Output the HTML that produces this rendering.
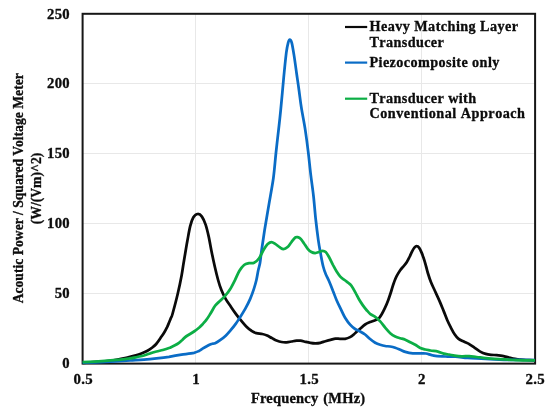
<!DOCTYPE html>
<html><head><meta charset="utf-8"><title>Acoustic Power vs Frequency</title>
<style>
html,body{margin:0;padding:0;background:#fff;}
body{width:550px;height:416px;overflow:hidden;position:relative;}
svg{position:absolute;left:0;top:0;display:block;}
svg text{font-family:"Liberation Serif","DejaVu Serif",serif;font-weight:bold;fill:#0c0c0c;stroke:#0c0c0c;stroke-width:0.3px;stroke-linejoin:round;}
</style></head><body>
<svg width="550" height="416" viewBox="0 0 550 416">
<rect x="0" y="0" width="550" height="416" fill="#fff"/>
<g stroke="#e8e8e8" stroke-width="1" fill="none"><line x1="195.5" y1="13.8" x2="195.5" y2="363.6"/><line x1="308.5" y1="13.8" x2="308.5" y2="363.6"/><line x1="421.5" y1="13.8" x2="421.5" y2="363.6"/><line x1="82.6" y1="83.5" x2="535.1" y2="83.5"/><line x1="82.6" y1="153.5" x2="535.1" y2="153.5"/><line x1="82.6" y1="223.5" x2="535.1" y2="223.5"/><line x1="82.6" y1="293.5" x2="535.1" y2="293.5"/></g>
<rect x="82.6" y="13.8" width="452.5" height="349.8" fill="none" stroke="#161616" stroke-width="2"/>
<g fill="none" stroke-width="2.75" stroke-linejoin="round" stroke-linecap="butt">
<path stroke="#0a0a0a" d="M82.6 362.8C86.3 362.6 99.2 361.9 105.0 361.4C110.8 360.9 114.2 360.2 117.5 359.6C120.8 359.1 122.9 358.6 125.0 358.1C127.1 357.7 128.2 357.4 130.0 356.9C131.8 356.4 134.0 355.8 136.0 355.2C138.0 354.6 140.2 353.9 142.0 353.2C143.8 352.5 145.3 351.9 147.0 351.0C148.7 350.1 150.5 349.0 152.0 347.8C153.5 346.6 154.8 345.6 156.2 344.0C157.6 342.4 159.2 339.9 160.5 338.0C161.8 336.1 163.1 334.3 164.2 332.5C165.3 330.7 166.2 328.9 167.1 327.1C167.9 325.4 168.6 323.6 169.3 322.0C170.0 320.4 170.6 318.9 171.1 317.6C171.6 316.3 171.4 318.0 172.5 314.0C173.6 310.0 176.3 299.9 177.8 293.5C179.3 287.1 180.6 280.9 181.6 275.5C182.6 270.1 182.9 266.9 183.9 261.2C184.9 255.5 186.2 247.0 187.3 241.2C188.4 235.3 189.2 230.1 190.2 226.1C191.2 222.1 192.2 219.3 193.4 217.3C194.7 215.3 196.3 214.1 197.7 214.0C199.1 213.9 200.6 214.8 201.9 216.6C203.2 218.4 204.6 221.7 205.7 224.9C206.8 228.2 207.6 231.7 208.6 236.1C209.6 240.5 210.5 246.2 211.5 251.2C212.5 256.2 213.6 261.4 214.7 266.2C215.8 271.0 217.0 276.0 218.1 280.0C219.2 284.0 220.2 287.0 221.4 290.1C222.6 293.2 223.9 295.8 225.5 298.6C227.1 301.5 229.4 304.5 231.2 307.2C233.0 309.9 234.7 312.3 236.4 314.6C238.1 316.9 239.7 318.9 241.4 320.9C243.1 322.9 244.8 325.1 246.5 326.8C248.2 328.5 249.8 329.8 251.5 330.8C253.2 331.9 254.6 332.6 256.4 333.1C258.2 333.6 260.5 333.6 262.3 334.0C264.1 334.4 265.5 334.9 267.1 335.6C268.7 336.3 270.2 337.3 271.8 338.1C273.4 338.9 274.9 339.9 276.5 340.5C278.1 341.1 279.8 341.7 281.5 342.0C283.2 342.3 284.9 342.4 286.6 342.3C288.3 342.2 289.9 341.8 291.6 341.5C293.3 341.2 295.1 340.8 296.6 340.7C298.1 340.6 298.9 340.5 300.4 340.7C301.9 340.9 303.7 341.4 305.4 341.8C307.1 342.2 308.7 342.6 310.4 342.8C312.1 343.1 313.7 343.3 315.4 343.3C317.1 343.3 318.7 343.2 320.4 342.8C322.1 342.4 323.7 341.7 325.4 341.2C327.1 340.7 328.8 340.2 330.5 339.8C332.2 339.4 333.9 338.8 335.5 338.6C337.1 338.4 338.4 338.8 340.0 338.8C341.6 338.8 343.4 339.1 345.1 338.8C346.8 338.5 348.4 338.0 350.1 337.1C351.8 336.2 353.4 334.7 355.1 333.3C356.8 331.9 358.4 330.3 360.1 328.8C361.8 327.3 363.4 325.6 365.1 324.5C366.8 323.4 368.4 322.8 370.1 322.1C371.8 321.4 373.5 320.9 375.1 320.2C376.7 319.4 377.9 319.5 379.5 317.6C381.1 315.7 383.1 311.8 384.5 308.9C385.9 306.0 387.1 303.2 388.2 300.2C389.3 297.2 390.4 293.9 391.3 291.0C392.2 288.1 392.9 285.4 393.8 283.0C394.7 280.6 395.4 278.4 396.5 276.3C397.6 274.2 399.0 271.9 400.2 270.2C401.4 268.5 402.4 267.6 403.5 266.3C404.6 265.0 405.7 263.9 406.7 262.3C407.7 260.8 408.6 258.8 409.5 257.0C410.4 255.2 411.2 253.2 412.0 251.6C412.8 250.0 413.6 248.5 414.4 247.6C415.2 246.7 416.0 246.1 416.8 246.2C417.6 246.2 418.4 246.8 419.2 247.9C420.0 249.0 420.8 250.7 421.6 252.6C422.4 254.5 423.2 256.9 424.0 259.2C424.8 261.5 425.4 264.1 426.1 266.5C426.8 268.9 427.2 270.9 428.0 273.5C428.8 276.1 429.8 279.3 431.0 282.3C432.2 285.3 433.7 288.1 435.2 291.5C436.7 294.9 438.8 299.3 440.2 302.6C441.6 305.9 442.5 308.2 443.7 311.1C444.9 314.1 446.1 317.5 447.3 320.3C448.5 323.1 449.8 325.5 451.0 327.8C452.2 330.1 453.4 332.5 454.6 334.3C455.8 336.1 456.8 337.4 458.3 338.6C459.8 339.8 462.0 340.7 463.8 341.6C465.6 342.5 467.5 343.1 469.3 344.2C471.1 345.2 472.9 346.7 474.7 347.9C476.5 349.1 478.4 350.6 480.2 351.6C482.0 352.6 483.9 353.4 485.7 353.9C487.5 354.4 489.4 354.6 491.2 354.8C493.0 355.0 494.9 355.0 496.7 355.2C498.5 355.4 500.4 355.5 502.2 355.8C504.0 356.1 505.8 356.8 507.6 357.2C509.4 357.6 511.3 358.1 513.1 358.5C514.9 358.9 516.5 359.1 518.6 359.4C520.7 359.6 523.2 359.9 525.9 360.0C528.6 360.1 533.5 360.2 535.0 360.3"/>
<path stroke="#0a6cc6" d="M82.6 362.6C86.3 362.5 97.1 362.2 105.0 361.8C112.9 361.4 123.5 360.9 130.0 360.5C136.5 360.1 139.6 360.0 144.0 359.6C148.4 359.3 152.3 358.9 156.5 358.4C160.7 357.9 164.8 357.4 169.0 356.8C173.2 356.1 177.3 355.3 181.5 354.6C185.7 354.0 191.1 353.4 194.0 352.8C196.9 352.1 197.3 351.7 199.0 350.9C200.7 350.0 202.3 348.7 204.0 347.8C205.7 346.8 207.7 345.7 209.0 345.0C210.3 344.3 211.0 344.0 212.0 343.8C213.0 343.5 213.8 343.9 215.1 343.3C216.4 342.7 218.3 341.5 220.1 340.2C221.9 338.9 223.9 337.4 225.7 335.7C227.5 334.0 229.0 332.2 230.7 330.2C232.4 328.2 234.1 326.1 235.7 323.9C237.3 321.7 238.5 319.7 240.1 317.2C241.7 314.7 243.5 311.9 245.2 308.9C246.9 305.8 248.8 302.2 250.2 298.9C251.6 295.5 252.9 291.9 253.9 288.8C254.9 285.7 255.7 283.1 256.4 280.0C257.1 276.9 257.6 273.3 258.2 270.5C258.8 267.7 259.4 266.2 260.0 263.0C260.6 259.8 260.7 256.5 261.5 251.0C262.3 245.5 263.4 237.8 264.6 230.0C265.9 222.2 267.5 212.7 269.0 204.0C270.5 195.3 272.2 186.4 273.4 178.0C274.5 169.6 275.0 162.2 275.9 153.5C276.8 144.8 278.2 133.2 279.0 126.0C279.8 118.8 279.9 118.0 280.7 110.0C281.5 102.0 282.8 87.3 283.7 77.7C284.6 68.1 285.6 58.5 286.3 52.6C287.1 46.8 287.6 44.8 288.2 42.6C288.8 40.4 289.1 39.6 289.7 39.6C290.3 39.6 291.0 40.0 291.7 42.6C292.4 45.2 293.2 50.1 294.0 55.1C294.8 60.1 295.7 66.9 296.5 72.7C297.3 78.5 298.2 84.2 299.0 90.2C299.8 96.2 300.4 101.8 301.5 108.5C302.6 115.2 304.2 122.8 305.3 130.1C306.4 137.4 307.4 145.1 308.3 152.6C309.2 160.1 309.9 167.8 310.8 175.2C311.7 182.6 312.8 189.5 313.6 197.0C314.4 204.5 315.0 212.8 315.8 220.0C316.6 227.2 317.5 234.2 318.3 240.1C319.1 246.0 320.1 250.8 320.9 255.2C321.7 259.6 322.4 263.4 323.2 266.5C324.0 269.6 324.7 271.6 325.7 274.0C326.7 276.4 327.8 278.2 329.0 281.0C330.2 283.8 331.6 287.3 332.8 290.5C334.1 293.7 335.1 296.7 336.5 300.0C337.9 303.3 339.9 307.2 341.3 310.1C342.7 313.1 343.6 315.3 345.1 317.7C346.6 320.1 348.4 322.8 350.1 324.7C351.8 326.6 353.4 327.9 355.1 329.0C356.8 330.1 358.4 330.6 360.1 331.5C361.8 332.4 363.4 333.2 365.1 334.5C366.8 335.8 368.4 337.6 370.1 339.0C371.8 340.4 373.5 341.8 375.2 342.8C376.9 343.8 378.5 344.3 380.2 344.8C381.9 345.3 383.5 345.7 385.2 346.0C386.9 346.3 388.5 346.2 390.2 346.5C391.9 346.8 393.5 347.2 395.2 347.8C396.9 348.4 398.5 349.1 400.2 349.8C401.9 350.5 403.2 351.3 405.3 351.9C407.4 352.5 410.3 353.1 412.8 353.3C415.3 353.6 418.1 353.4 420.3 353.4C422.5 353.4 424.2 353.2 426.0 353.5C427.8 353.8 429.4 354.5 431.0 354.9C432.6 355.3 433.0 355.6 435.4 355.9C437.8 356.2 442.1 356.4 445.4 356.5C448.7 356.6 451.7 356.4 455.4 356.6C459.1 356.9 463.9 357.7 467.4 358.0C470.9 358.3 473.6 358.4 476.6 358.5C479.7 358.6 482.7 358.8 485.7 358.9C488.7 359.0 491.8 359.2 494.8 359.4C497.9 359.5 500.9 359.7 504.0 359.8C507.1 359.9 507.9 359.7 513.1 359.8C518.3 359.9 531.4 360.1 535.0 360.2"/>
<path stroke="#0cae45" d="M82.6 362.2C86.3 362.0 99.1 361.3 105.0 360.9C110.9 360.5 113.8 360.2 118.0 359.8C122.2 359.4 126.8 358.9 130.0 358.4C133.2 357.9 134.7 357.5 137.0 357.0C139.3 356.5 141.8 356.1 144.0 355.5C146.2 354.9 148.2 354.0 150.2 353.4C152.3 352.7 154.4 352.1 156.5 351.5C158.6 350.9 160.7 350.6 162.8 350.0C164.8 349.4 167.6 348.5 169.0 348.0C170.4 347.5 169.6 347.9 171.0 347.2C172.4 346.5 175.5 345.2 177.3 344.0C179.1 342.8 180.6 341.4 182.0 340.2C183.4 338.9 184.0 337.9 186.0 336.5C188.0 335.1 191.8 333.0 194.0 331.5C196.2 330.0 197.5 329.0 199.0 327.8C200.5 326.5 201.5 325.4 202.8 324.0C204.0 322.6 205.2 321.3 206.5 319.6C207.8 318.0 208.8 316.3 210.2 314.0C211.7 311.7 213.5 308.0 215.1 305.8C216.7 303.6 218.4 302.5 220.1 300.8C221.8 299.1 223.4 297.7 225.1 295.8C226.8 293.9 228.4 291.9 230.1 289.2C231.8 286.5 233.6 282.8 235.1 279.8C236.6 276.8 237.8 273.5 239.3 271.0C240.8 268.5 242.5 266.3 244.1 265.0C245.7 263.7 247.4 263.6 249.1 263.2C250.8 262.8 252.4 263.5 254.1 262.7C255.8 261.9 257.5 260.4 259.1 258.2C260.7 256.0 262.4 251.9 263.8 249.5C265.2 247.1 266.4 245.2 267.7 244.0C269.0 242.8 270.2 242.0 271.5 242.0C272.8 242.0 273.8 242.9 275.2 243.8C276.6 244.7 278.2 246.3 279.6 247.2C281.0 248.1 282.2 249.2 283.5 249.2C284.8 249.2 286.3 248.3 287.6 247.1C288.9 245.9 290.1 243.7 291.4 242.1C292.6 240.5 294.1 238.4 295.1 237.6C296.1 236.8 296.7 237.0 297.6 237.2C298.5 237.4 299.6 237.7 300.6 238.7C301.7 239.7 302.7 241.5 303.9 243.2C305.1 244.9 306.4 247.3 307.7 248.8C308.9 250.3 310.1 251.3 311.4 252.0C312.6 252.7 313.9 253.0 315.2 253.0C316.5 253.0 317.8 252.4 319.0 252.0C320.2 251.6 321.6 250.8 322.7 250.8C323.8 250.8 324.6 251.0 325.7 252.0C326.8 253.0 327.8 254.9 329.0 257.0C330.2 259.1 331.6 262.2 332.8 264.6C334.1 267.0 335.2 269.3 336.5 271.3C337.8 273.3 339.0 275.2 340.3 276.6C341.6 278.1 343.1 278.9 344.5 280.0C345.9 281.1 347.3 282.0 348.5 283.0C349.7 284.0 350.5 284.4 351.6 286.0C352.7 287.6 354.1 290.1 355.3 292.3C356.6 294.6 357.8 297.3 359.1 299.5C360.4 301.7 361.7 303.6 362.9 305.4C364.1 307.1 365.3 308.6 366.5 310.0C367.7 311.4 368.7 312.8 370.1 313.9C371.6 315.0 373.5 315.6 375.2 316.9C376.9 318.1 378.5 319.6 380.2 321.4C381.9 323.2 383.5 325.7 385.2 327.7C386.9 329.7 388.5 331.7 390.2 333.2C391.9 334.7 393.5 335.7 395.2 336.5C396.9 337.3 398.5 337.7 400.2 338.2C401.9 338.7 403.6 339.0 405.3 339.7C407.0 340.4 408.6 341.4 410.3 342.3C412.0 343.2 413.6 343.9 415.3 344.8C417.0 345.8 418.6 347.2 420.3 348.0C422.0 348.8 423.6 349.1 425.3 349.5C427.0 349.9 428.3 350.1 430.4 350.5C432.5 350.9 435.7 351.1 437.9 351.6C440.1 352.1 441.8 353.1 443.7 353.6C445.6 354.1 447.3 354.2 449.1 354.5C450.9 354.8 452.5 355.3 454.6 355.6C456.7 355.9 459.4 356.2 461.9 356.3C464.3 356.4 466.9 356.0 469.3 356.1C471.8 356.2 473.9 356.7 476.6 357.0C479.3 357.3 482.7 357.8 485.7 358.1C488.7 358.4 491.8 358.7 494.8 358.9C497.9 359.1 500.9 359.2 504.0 359.4C507.1 359.6 510.1 359.9 513.1 360.0C516.1 360.1 518.6 360.2 522.3 360.3C525.9 360.4 532.9 360.3 535.0 360.3"/>
</g>
<g font-size="14" text-anchor="end" letter-spacing="0.25">
<text transform="translate(69.9,18.6) scale(1.05,1)">250</text>
<text transform="translate(69.9,88.4) scale(1.05,1)">200</text>
<text transform="translate(69.9,158.3) scale(1.05,1)">150</text>
<text transform="translate(69.9,228.2) scale(1.05,1)">100</text>
<text transform="translate(69.9,298.1) scale(1.05,1)">50</text>
<text transform="translate(69.9,368) scale(1.05,1)">0</text>
</g>
<g font-size="13.9" text-anchor="middle" letter-spacing="0.25">
<text transform="translate(83.2,383.7) scale(1.07,1)">0.5</text>
<text transform="translate(196,383.7) scale(1.07,1)">1</text>
<text transform="translate(309.2,383.7) scale(1.07,1)">1.5</text>
<text transform="translate(421.9,383.7) scale(1.07,1)">2</text>
<text transform="translate(535.3,383.7) scale(1.07,1)">2.5</text>
<text transform="translate(308,403.3) scale(1.04,1)" letter-spacing="0" textLength="109.8" word-spacing="1">Frequency (MHz)</text>
</g>
<g font-size="13.65" text-anchor="middle">
<text transform="translate(23.0,188.3) rotate(-90) scale(1,1.11)">Acoutic Power / Squared Voltage Meter</text>
<text transform="translate(41.0,188.5) rotate(-90) scale(1,1.11)">(W/(Vm)^2)</text>
</g>
<g stroke-width="2.2" fill="none" stroke-linecap="butt">
<line x1="345" y1="27" x2="367.2" y2="27" stroke="#0a0a0a"/>
<line x1="345" y1="62.6" x2="367.2" y2="62.6" stroke="#0a6cc6"/>
<line x1="345" y1="98.7" x2="367.2" y2="98.7" stroke="#0cae45"/>
</g>
<g font-size="13.8" style="font-kerning:none">
<text transform="translate(369.5,31.4) scale(1.03,1)" textLength="144.3">Heavy Matching Layer</text>
<text transform="translate(369.5,46.9) scale(1.03,1)" textLength="72.2">Transducer</text>
<text transform="translate(369.5,66.9) scale(1.03,1)" textLength="126.1">Piezocomposite only</text>
<text transform="translate(369.5,102.9) scale(1.03,1)" textLength="103.5">Transducer with</text>
<text transform="translate(369.5,118.4) scale(1.03,1)" textLength="151.0">Conventional Approach</text>
</g>
</svg>
</body></html>
